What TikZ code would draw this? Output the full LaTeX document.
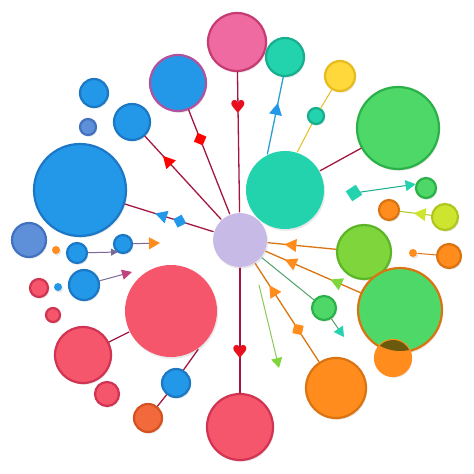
\documentclass[tikz,border=0pt]{standalone}
\usepackage{fontspec}
\newfontfamily\symfont{DejaVu Sans}
\usetikzlibrary{shapes.geometric,shadows,arrows.meta}
\definecolor{lav}{HTML}{C8BAE6}
\definecolor{pinkF}{HTML}{EE6AA0}\definecolor{pinkD}{HTML}{C63C72}
\definecolor{tealF}{HTML}{22D3AE}\definecolor{tealD}{HTML}{17AE8E}
\definecolor{yelF}{HTML}{FFD83C}\definecolor{yelD}{HTML}{E6BC1E}
\definecolor{grnF}{HTML}{4ED868}\definecolor{grnD}{HTML}{2CB049}
\definecolor{lgrF}{HTML}{7ED63C}\definecolor{lgrD}{HTML}{5BB526}
\definecolor{ygrF}{HTML}{CDE52E}\definecolor{ygrD}{HTML}{AFC61E}
\definecolor{oraF}{HTML}{FF8C1C}\definecolor{oraD}{HTML}{DA7412}
\definecolor{bluF}{HTML}{2398E8}\definecolor{bluD}{HTML}{1C78C4}
\definecolor{stlF}{HTML}{5E90DA}\definecolor{stlD}{HTML}{4272BE}
\definecolor{redF}{HTML}{F6566C}\definecolor{redD}{HTML}{D03452}
\definecolor{vermF}{HTML}{F2693C}\definecolor{vermD}{HTML}{D4521F}
\definecolor{magD}{HTML}{B0529E}
\definecolor{wine}{HTML}{A3173F}
\definecolor{olv}{HTML}{6B5A0E}
\definecolor{hrt}{HTML}{E8101E}
\definecolor{gryP}{HTML}{7A6A9A}
\definecolor{lnB}{HTML}{2A9FD0}
\definecolor{lnG}{HTML}{4F9F6A}
\definecolor{lnL}{HTML}{8DC85A}
\begin{document}
\begin{tikzpicture}[x=1pt, y=-1pt, line cap=round,
main node/.style={circle,draw,line width=2.2pt,inner sep=0pt,drop shadow={shadow xshift=1.2pt,shadow yshift=-1.8pt,opacity=.18}},
bub/.style n args={3}{main node,fill=#1,draw=#2,minimum size=#3},
tip node/.style={isosceles triangle,isosceles triangle apex angle=75,isosceles triangle stretches,minimum width=13pt,minimum height=12pt,inner sep=0pt,sloped,allow upside down,fill=#1,draw=none},
back node/.style={tip node=#1,shape border rotate=180},
diam node/.style={diamond,minimum size=14pt,inner sep=0pt,sloped,allow upside down,fill=#1,draw=none},
heart node/.style={text=hrt,font=\symfont\fontsize{18}{18}\selectfont,inner sep=0pt}]
\useasboundingbox (0,0) rectangle (474,474);
\begin{scope}
% centre and top
\node[bub={lav}{lav}{54pt},draw=none] (c) at (240,240) {};
\node[bub={pinkF}{pinkD}{58pt}] (p1) at (237,42) {};
\node[bub={tealF}{tealD}{38pt}] (t1) at (285,57) {};
\node[bub={yelF}{yelD}{30pt}] (y1) at (340,76) {};
\node[bub={tealF}{tealD}{16pt}] (t2) at (316,116) {};
\node[bub={grnF}{grnD}{82pt}] (g1) at (398,128) {};
\node[bub={tealF}{tealF}{78pt},draw=none] (T) at (285,190) {};
% right
\node[diam node=tealF,minimum size=17pt,rotate=-12] (d1) at (354,193) {};
\node[bub={grnF}{grnD}{20pt}] (g2) at (426,188) {};
\node[bub={oraF}{oraD}{20pt}] (o1) at (389,210) {};
\node[bub={ygrF}{ygrD}{26pt}] (yg) at (445,217) {};
\node[bub={lgrF}{lgrD}{54pt}] (lg) at (364,252) {};
\node[bub={oraF}{oraF}{8pt},draw=none] (od) at (413,253) {};
\node[bub={oraF}{oraD}{24pt}] (o2) at (449,256) {};
\node[bub={grnF}{oraD}{84pt}] (G2) at (400,310) {};
\node[bub={oraF}{oraF}{36pt}] (o3) at (393,358) {};
\node[bub={grnF}{grnD}{24pt}] (g3) at (324,308) {};
\node[bub={oraF}{oraD}{60pt}] (O) at (336,388) {};
\node[bub={redF}{redD}{66pt}] (p2) at (240,427) {};
% left
\node[bub={bluF}{magD}{56pt}] (b1) at (178,83) {};
\node[bub={bluF}{bluD}{28pt}] (b4) at (94,93) {};
\node[bub={bluF}{bluD}{36pt}] (b2) at (132,122) {};
\node[bub={stlF}{stlD}{16pt}] (s1) at (88,127) {};
\node[bub={bluF}{bluD}{92pt}] (b3) at (80,190) {};
\node[bub={stlF}{stlD}{34pt}] (b5) at (29,240) {};
\node[bub={oraF}{oraF}{8pt},draw=none] (od2) at (56,250) {};
\node[bub={bluF}{bluD}{20pt}] (b6) at (77,253) {};
\node[bub={bluF}{bluD}{18pt}] (b7) at (123,244) {};
\node[bub={redF}{redD}{18pt}] (r1) at (39,288) {};
\node[bub={bluF}{bluF}{8pt},draw=none] (bd) at (58,287) {};
\node[bub={bluF}{bluD}{30pt}] (b8) at (84,285) {};
\node[bub={redF}{redD}{14pt}] (r2) at (53,315) {};
\node[bub={redF}{redF}{92pt},draw=none] (R) at (171,311) {};
\node[bub={redF}{redD}{56pt}] (r3) at (83,355) {};
\node[bub={redF}{redD}{24pt}] (r4) at (107,394) {};
\node[bub={bluF}{bluD}{28pt}] (b9) at (176,383) {};
\node[bub={vermF}{vermD}{28pt}] (o4) at (148,418) {};
\coordinate (a1) at (118,252);
\coordinate (a2) at (160,243);
\coordinate (a3) at (132,272);
\coordinate (a4) at (344,337);
\coordinate (a5) at (279,368);
\coordinate (a6) at (259,285);
\end{scope}
\begin{scope}
\clip (G2.center) circle[radius=41pt];
\fill[olv] (o3.center) circle[radius=18pt];
\end{scope}
\begin{scope}[line width=1.3pt]
\draw[wine] (c) edge node[heart node,pos=.75]{♥} (p1);
\draw[wine] (c) edge node[diam node=red,pos=.72]{} (b1);
\draw[wine] (c) edge node[tip node=red,pos=.69]{} (b2);
\draw[wine] (c) edge node[tip node=bluF,pos=.57]{} node[diam node=bluF,pos=.38]{} (b3);
\draw[wine] (c) edge node[heart node,pos=.67]{♥} (p2);
\draw[wine] (g1) edge (T);
\draw[lnB] (t1.265) edge node[back node=bluF,pos=.44]{} (T.116);
\draw[yelD,line width=1pt] (y1) edge (t2);
\draw[yelD,line width=1pt] (t2) edge (T.72);
\draw[tealD,line width=1pt,-{Triangle[length=10pt,width=11pt,color=tealF]}] (d1) -- (g2.160);
\draw[ygrD,line width=1pt] (yg) edge node[tip node=ygrF,pos=.3]{} (o1);
\draw[oraD,line width=1pt] (od) edge (o2);
\draw[oraD] (c) edge node[back node=oraF,pos=.36]{} (lg);
\draw[oraD] (c) edge node[back node=oraF,pos=.28]{} node[back node=lgrF,pos=.76]{} (G2);
\draw[lnG,line width=1pt] (c) edge (g3);
\draw[lnG,line width=1pt,-{Triangle[length=10pt,width=11pt,color=tealF]}] (g3) -- (a4);
\draw[oraD] (c) edge node[back node=oraF,pos=.29]{} node[diam node=oraF,pos=.67]{} (O);
\draw[lnL,line width=1pt,-{Triangle[length=10pt,width=11pt,color=lgrF]}] (a6) -- (a5);
\draw[gryP,line width=1pt,-{Triangle[length=7pt,width=7pt]}] (b6) -- (a1);
\draw[gryP,line width=1pt,-{Triangle[length=11pt,width=12pt,color=oraF]}] (b7) -- (a2);
\draw[gryP,line width=1pt,-{Triangle[length=10pt,width=10pt,color=magD!80!red]}] (b8) -- (a3);
\draw[wine] (R) edge (r3);
\draw[wine] (R.-55) edge (b9.60);
\draw[wine] (b9) edge (o4);
\end{scope}
\end{tikzpicture}
\end{document}
